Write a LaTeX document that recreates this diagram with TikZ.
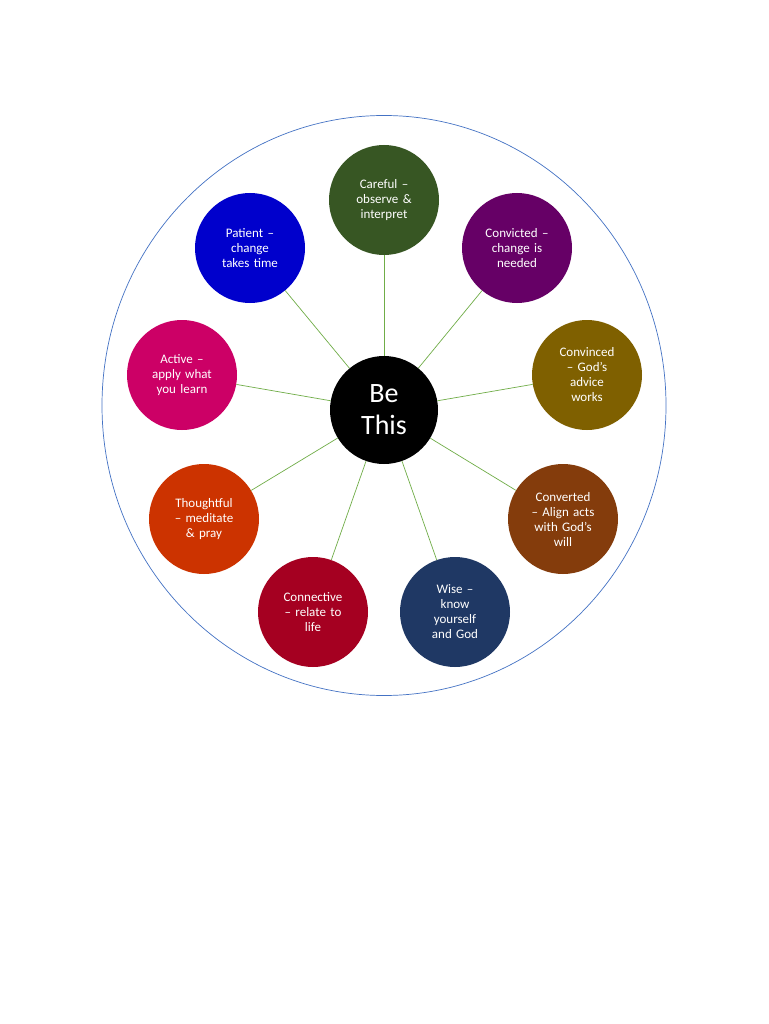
\documentclass[tikz,border=0pt]{standalone}
\usepackage{fontspec}
\setmainfont{Carlito}
\begin{document}
\begin{tikzpicture}[x=1pt,y=-1pt,
  sat/.style={circle,minimum size=110pt,inner sep=0pt,text=white,align=center,font=\fontsize{13}{15}\selectfont,text width=80pt},
  link/.style={draw={rgb,255:red,112;green,173;blue,71},line width=0.7pt}]
\useasboundingbox[fill=white] (0,0) rectangle (768,1024);
\draw[draw={rgb,255:red,68;green,114;blue,196},line width=0.7pt] (384,405.5) ellipse [x radius=282,y radius=290];
\node[circle,fill=black,minimum size=108pt,text=white,align=center,font=\fontsize{28}{32}\selectfont] (c) at (384,410) {Be\\This};
\definecolor{c1}{HTML}{375623}\definecolor{c2}{HTML}{660066}\definecolor{c3}{HTML}{7F6000}
\definecolor{c4}{HTML}{843C0C}\definecolor{c5}{HTML}{1F3864}\definecolor{c6}{HTML}{A50021}
\definecolor{c7}{HTML}{CC3300}\definecolor{c8}{HTML}{CC0066}\definecolor{c9}{HTML}{0000CC}
\node[sat,fill=c1] (s1) at (384,200) {Careful --\\observe \&\\interpret};
\node[sat,fill=c2] (s2) at (517,248) {Convicted --\\change is\\needed};
\node[sat,fill=c3] (s3) at (587,375) {Convinced\\-- God’s\\advice\\works};
\node[sat,fill=c4] (s4) at (563,519) {Converted\\-- Align acts\\with God’s\\will};
\node[sat,fill=c5] (s5) at (455,612) {Wise --\\know\\yourself\\and God};
\node[sat,fill=c6] (s6) at (313,612) {Connective\\-- relate to\\life};
\node[sat,fill=c7] (s7) at (204,519) {Thoughtful\\-- meditate\\\& pray};
\node[sat,fill=c8] (s8) at (182,375) {Active --\\apply what\\you learn};
\node[sat,fill=c9] (s9) at (250,248) {Patient --\\change\\takes time};
\foreach \i in {1,...,9} \draw[link] (c) -- (s\i);
\end{tikzpicture}
\end{document}
